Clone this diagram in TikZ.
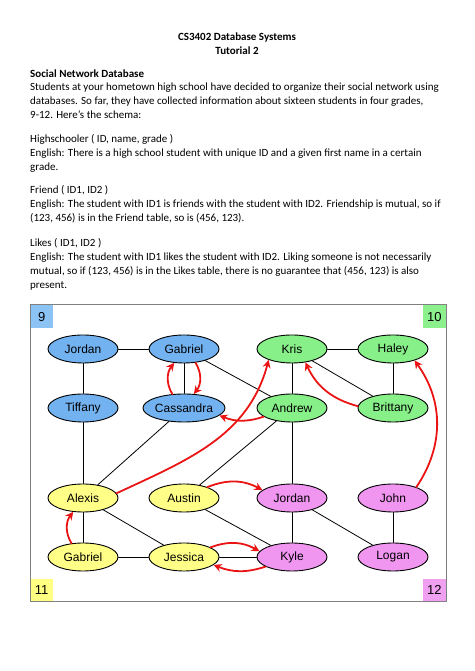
\documentclass[tikz,border=0pt]{standalone}
\usepackage{fontspec}
\setmainfont{Carlito}
\newfontfamily\arialfont{Liberation Sans}
\usetikzlibrary{arrows.meta,shapes.geometric}
\definecolor{nine}{RGB}{115,178,240}
\definecolor{ten}{RGB}{136,240,136}
\definecolor{eleven}{RGB}{255,255,136}
\definecolor{twelve}{RGB}{240,150,240}
\definecolor{ninebox}{RGB}{140,195,245}
\definecolor{tenbox}{RGB}{140,240,140}
\definecolor{elevenbox}{RGB}{255,255,130}
\definecolor{twelvebox}{RGB}{240,160,240}
\definecolor{likered}{RGB}{235,20,20}
\tikzset{
  kid/.style={ellipse,draw,line width=0.9pt,minimum width=70pt,minimum height=28pt,inner sep=0pt,font=\arialfont\fontsize{12}{14}\selectfont},
  friend/.style={line width=0.8pt},
  likes/.style={->,line width=1.8pt,color=likered},
  txt/.style={anchor=base west,inner sep=0pt,font=\fontsize{11}{13}\selectfont},
  gradebox/.style={minimum size=23pt,inner sep=0pt,font=\arialfont\fontsize{13}{15}\selectfont}
}
\begin{document}
\begin{tikzpicture}[line cap=round,line join=round,>={Stealth[length=8pt,width=8pt]},x=1pt,y=1pt]
\useasboundingbox (0,0) rectangle (474,671);
% page text
\node[txt,anchor=base,font=\bfseries\fontsize{11}{13}\selectfont] (title) at (237,630.5) {CS3402 Database Systems};
\node[txt,anchor=base,font=\bfseries\fontsize{11}{13}\selectfont] (tut) at (237,616.5) {Tutorial 2};
\node[txt,font=\bfseries\fontsize{11}{13}\selectfont] (head) at (30,593.5) {Social Network Database};
\node[txt] (intro1) at (30,580.5) {Students at your hometown high school have decided to organize their social network using};
\node[txt] (intro2) at (30,566.5) {databases. So far, they have collected information about sixteen students in four grades,};
\node[txt] (intro3) at (30,552.5) {9-12. Here's the schema:};
\node[txt] (hs1) at (30,528.5) {Highschooler ( ID, name, grade )};
\node[txt] (hs2) at (30,514.5) {English: There is a high school student with unique ID and a given first name in a certain};
\node[txt] (hs3) at (30,500.5) {grade.};
\node[txt] (fr1) at (30,477.5) {Friend ( ID1, ID2 )};
\node[txt] (fr2) at (30,463.5) {English: The student with ID1 is friends with the student with ID2. Friendship is mutual, so if};
\node[txt] (fr3) at (30,449.5) {(123, 456) is in the Friend table, so is (456, 123).};
\node[txt] (lk1) at (30,424.5) {Likes ( ID1, ID2 )};
\node[txt] (lk2) at (30,410.5) {English: The student with ID1 likes the student with ID2. Liking someone is not necessarily};
\node[txt] (lk3) at (30,396.5) {mutual, so if (123, 456) is in the Likes table, there is no guarantee that (456, 123) is also};
\node[txt] (lk4) at (30,382.5) {present.};
% grade corners and frame
\node[gradebox,fill=ninebox,anchor=north west] (g9) at (30,366) {9};
\node[gradebox,fill=tenbox,anchor=north east] (g10) at (446,366) {10};
\node[gradebox,fill=elevenbox,anchor=south west] (g11) at (30,69) {11};
\node[gradebox,fill=twelvebox,anchor=south east] (g12) at (446,69) {12};
\draw[gray,line width=1pt] (30,69) rectangle (446,366);
% students
\node[kid,fill=nine] (jor) at (83,322) {Jordan};
\node[kid,fill=nine] (gab) at (184,322) {Gabriel};
\node[kid,fill=nine] (tif) at (83,263) {Tiffany};
\node[kid,fill=nine] (cas) at (184,263) {Cassandra};
\node[kid,fill=ten] (kri) at (292,322) {Kris};
\node[kid,fill=ten] (hal) at (393,322) {Haley};
\node[kid,fill=ten] (and) at (292,263) {Andrew};
\node[kid,fill=ten] (bri) at (393,263) {Brittany};
\node[kid,fill=eleven] (alx) at (83,173) {Alexis};
\node[kid,fill=eleven] (aus) at (184,173) {Austin};
\node[kid,fill=eleven] (gbr) at (83,114) {Gabriel};
\node[kid,fill=eleven] (jes) at (184,114) {Jessica};
\node[kid,fill=twelve] (jdn) at (292,173) {Jordan};
\node[kid,fill=twelve] (joh) at (393,173) {John};
\node[kid,fill=twelve] (kyl) at (292,114) {Kyle};
\node[kid,fill=twelve] (log) at (393,114) {Logan};
% friends
\draw[friend] (jor) -- (gab);
\draw[friend] (jor) -- (tif);
\draw[friend] (gab) -- (cas);
\draw[friend] (gab) -- (and);
\draw[friend] (tif) -- (alx);
\draw[friend] (cas) -- (alx);
\draw[friend] (kri) -- (hal);
\draw[friend] (kri) -- (and);
\draw[friend] (kri) -- (bri);
\draw[friend] (hal) -- (bri);
\draw[friend] (and) -- (aus);
\draw[friend] (and) -- (jdn);
\draw[friend] (alx) -- (gbr);
\draw[friend] (alx) -- (jes);
\draw[friend] (gbr) -- (jes);
\draw[friend] (aus) -- (kyl);
\draw[friend] (jes) -- (kyl);
\draw[friend] (jdn) -- (kyl);
\draw[friend] (jdn) -- (log);
\draw[friend] (joh) -- (log);
% likes
\draw[likes] (cas.130) to[bend left=35] (gab.235);
\draw[likes] (gab.-50) to[bend left=35] (cas.55);
\draw[likes] (and.197) to[bend left=20] (cas.-12);
\draw[likes] (alx.8) to[out=25,in=255] (kri.205);
\draw[likes] (bri.177) to[bend left=25] (kri.-45);
\draw[likes] (joh.25) to[bend right=35] (hal.-28);
\draw[likes] (aus.25) to[bend left=25] (jdn.165);
\draw[likes] (gbr.130) to[bend left=35] (alx.235);
\draw[likes] (jes.20) to[bend left=25] (kyl.170);
\draw[likes] (kyl.200) to[bend left=20] (jes.-15);
\end{tikzpicture}
\end{document}
